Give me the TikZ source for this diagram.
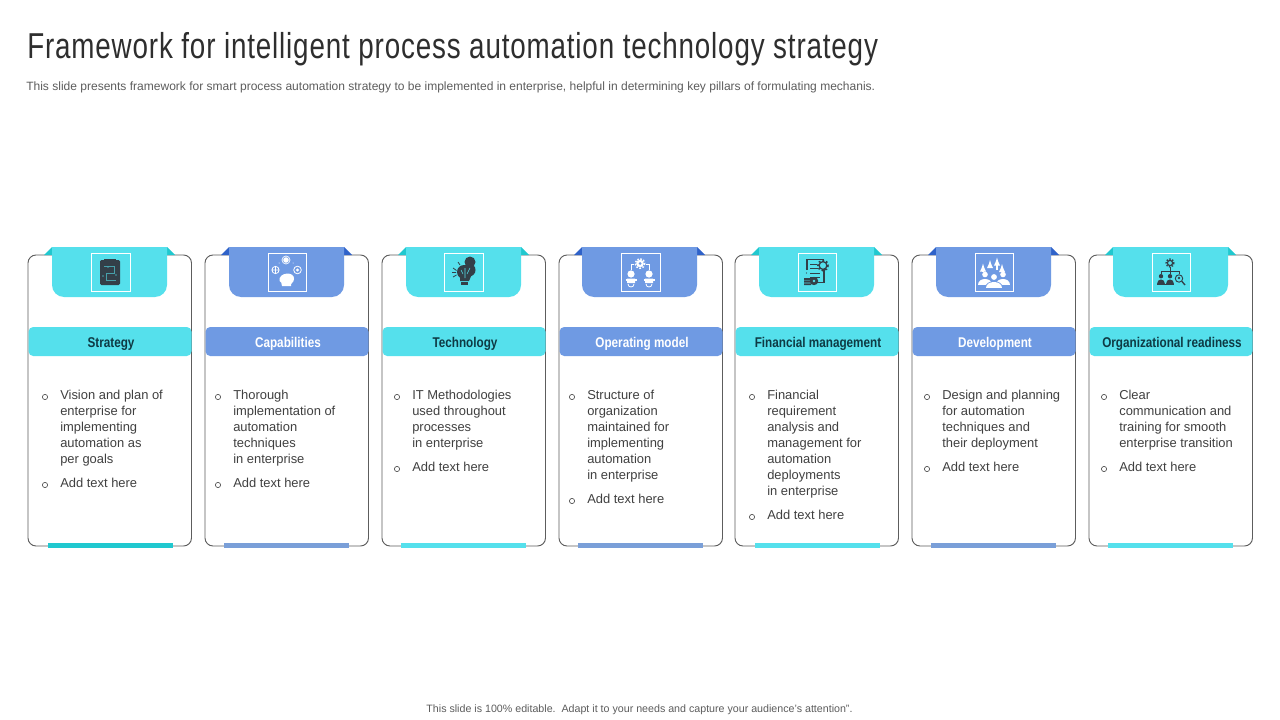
\documentclass[tikz,border=0pt]{standalone}
\usepackage{fontspec}
\setmainfont{Liberation Sans}
\definecolor{cy}{HTML}{55E0EC}
\definecolor{cyd}{HTML}{20C8CF}
\definecolor{bl}{HTML}{6F9AE3}
\definecolor{bld}{HTML}{2F62C9}
\definecolor{blb}{HTML}{7A9FD8}
\definecolor{ink}{HTML}{404040}
\definecolor{darkhead}{HTML}{0E3A44}
\definecolor{icond}{HTML}{333F48}
\definecolor{ttl}{HTML}{2E2E2E}
\tikzset{
  cardbox/.style={draw=ink!85,line width=0.7pt,rounded corners=6pt,fill=white},
  bodytext/.style={anchor=base west,inner sep=0pt,text=ink,font=\fontsize{9.7pt}{11pt}\selectfont},
  bulletmark/.style={circle,draw=ink,line width=0.45pt,inner sep=0pt,minimum size=3.9pt},
  headtext/.style={anchor=base,inner sep=0pt,font=\fontsize{10.6pt}{12pt}\selectfont\bfseries},
  iconframe/.style={draw=white,line width=0.6pt,fill=none},
}
% #1 card left x, #2 tab left x, #3 bar left x, #4 tab colour, #5 dark tab colour, #6 bar colour, #7 heading colour, #8 heading, #9 id
\newcommand{\cardbase}[9]{%
  \draw[cardbox] (#1,255) rectangle ++(163.5,291);
  \fill[#5] (#2-8,255) -- (#2,247) -- (#2+8,255) -- cycle;
  \fill[#5] (#2+107,255) -- (#2+115,247) -- (#2+123,255) -- cycle;
  \fill[#4] (#2,247) -- (#2+115,247) [rounded corners=9pt] -- (#2+115,297) -- (#2,297) [sharp corners] -- cycle;
  \fill[#4,rounded corners=3.5pt] (#1+0.5,327) rectangle ++(163,29);
  \fill[#6] (#3,543) rectangle ++(124.5,5);
  \node[headtext,text=#7] (head#9) at (#1+83,347.5) {\scalebox{0.83}[1]{#8}};
}
\newcommand{\bline}[4]{\node[bodytext] (t#1) at (#2,#3+4.5) {#4};}
\newcommand{\bmark}[3]{\node[bulletmark] (b#1) at (#2,#3) {};}
\newcommand{\minip}[3]{% x y colour : small person
  \fill[#3] (#1,#2-2.8) circle (2.2);
  \fill[#3] (#1-4,#2+4.5) .. controls (#1-4,#2-1) and (#1+4,#2-1) .. (#1+4,#2+4.5) -- cycle;
}
\begin{document}
\begin{tikzpicture}[x=0.75pt,y=-0.75pt]
\useasboundingbox (0,0) rectangle (1280,720);
\fill[white] (0,0) rectangle (1280,720);
\node[anchor=base west,inner sep=0pt,text=ttl] (title) at (27,58.5) {\scalebox{0.772}[1]{\fontsize{27pt}{30pt}\selectfont\addfontfeature{LetterSpace=3}Framework for intelligent process automation technology strategy}};
\node[anchor=base west,inner sep=0pt,text=ink!85] (subtitle) at (26,91) {\fontsize{9.02pt}{10pt}\selectfont This slide presents framework for smart process automation strategy to be implemented in enterprise, helpful in determining key pillars of formulating mechanis.};
\node[anchor=base,inner sep=0pt,text=ink!85] (foot) at (639.5,712) {\fontsize{8pt}{9pt}\selectfont This slide is 100\% editable.\ \ Adapt it to your needs and capture your audience's attention''.};

\cardbase{28}{52}{48}{cy}{cyd}{cyd}{darkhead}{Strategy}{a}
\cardbase{205}{229}{224}{bl}{bld}{blb}{white}{Capabilities}{b}
\cardbase{382}{406}{401}{cy}{cyd}{cy}{darkhead}{Technology}{c}
\cardbase{559}{582}{578}{bl}{bld}{blb}{white}{Operating model}{d}
\cardbase{735}{759}{755}{cy}{cyd}{cy}{darkhead}{Financial management}{e}
\cardbase{912}{936}{931}{bl}{bld}{blb}{white}{Development}{f}
\cardbase{1089}{1113}{1108}{cy}{cyd}{cy}{darkhead}{Organizational readiness}{g}

% body text
\bmark{a1}{45}{397}
\bline{a1}{60}{395}{Vision and plan of}
\bline{a2}{60}{411}{enterprise for}
\bline{a3}{60}{427}{implementing}
\bline{a4}{60}{443}{automation as}
\bline{a5}{60}{459}{per goals}
\bmark{a2}{45}{485}
\bline{a6}{60}{483}{Add text here}

\bmark{b1}{218}{397}
\bline{b1}{233}{395}{Thorough}
\bline{b2}{233}{411}{implementation of}
\bline{b3}{233}{427}{automation}
\bline{b4}{233}{443}{techniques}
\bline{b5}{233}{459}{in enterprise}
\bmark{b2}{218}{485}
\bline{b6}{233}{483}{Add text here}

\bmark{c1}{397}{397}
\bline{c1}{412}{395}{IT Methodologies}
\bline{c2}{412}{411}{used throughout}
\bline{c3}{412}{427}{processes}
\bline{c4}{412}{443}{in enterprise}
\bmark{c2}{397}{469}
\bline{c5}{412}{467}{Add text here}

\bmark{d1}{572}{397}
\bline{d1}{587}{395}{Structure of}
\bline{d2}{587}{411}{organization}
\bline{d3}{587}{427}{maintained for}
\bline{d4}{587}{443}{implementing}
\bline{d5}{587}{459}{automation}
\bline{d6}{587}{475}{in enterprise}
\bmark{d2}{572}{501}
\bline{d7}{587}{499}{Add text here}

\bmark{e1}{752}{397}
\bline{e1}{767}{395}{Financial}
\bline{e2}{767}{411}{requirement}
\bline{e3}{767}{427}{analysis and}
\bline{e4}{767}{443}{management for}
\bline{e5}{767}{459}{automation}
\bline{e6}{767}{475}{deployments}
\bline{e7}{767}{491}{in enterprise}
\bmark{e2}{752}{517}
\bline{e8}{767}{515}{Add text here}

\bmark{f1}{927}{397}
\bline{f1}{942}{395}{Design and planning}
\bline{f2}{942}{411}{for automation}
\bline{f3}{942}{427}{techniques and}
\bline{f4}{942}{443}{their deployment}
\bmark{f2}{927}{469}
\bline{f5}{942}{467}{Add text here}

\bmark{g1}{1104}{397}
\bline{g1}{1119}{395}{Clear}
\bline{g2}{1119}{411}{communication and}
\bline{g3}{1119}{427}{training for smooth}
\bline{g4}{1119}{443}{enterprise transition}
\bmark{g2}{1104}{469}
\bline{g5}{1119}{467}{Add text here}

% icon frames
\draw[iconframe] (91,253) rectangle (130,291);
\draw[iconframe] (268,253) rectangle (306,291);
\draw[iconframe] (444,253) rectangle (483,291);
\draw[iconframe] (621,253) rectangle (660,291);
\draw[iconframe] (798,253) rectangle (836,291);
\draw[iconframe] (975,253) rectangle (1013,291);
\draw[iconframe] (1152,253) rectangle (1190,291);

% icon: clipboard
\fill[icond,rounded corners=1pt] (100,260) rectangle (120,285);
\fill[icond] (104,258.5) rectangle (116,261);
\draw[cy!60!icond,line width=0.35pt] (104,266) -- (114,266) -- (114,273) -- (106,273) -- (106,280) -- (116,280);
\fill[cy!60!icond] (108,267) circle (0.8) (116,275) circle (0.8) (103,276) circle (0.8);

% icon: head and three ideas
\fill[white] (282,286) .. controls (282,283) and (281,282) .. (279.5,281) .. controls (278,272) and (295,271) .. (294,279) .. controls (294,283) and (290,283) .. (291,286) -- cycle;
\fill[white] (286,260) circle (2.8);
\draw[white,line width=0.5pt] (286,260) circle (4);
\draw[white,line width=0.6pt] (275.5,270) circle (3.6) (275.5,266.4) -- (275.5,273.6) (271.9,270) -- (279.1,270);
\draw[white,line width=0.6pt] (297.5,270) circle (3.8);
\fill[white] (297.5,270) circle (1.6);
\fill[white] (279,263) circle (0.5) (293,263) circle (0.5);

% icon: bulb and gear
\fill[icond] (470,262) circle (5.5);
\fill[icond] (464,272) circle (7);
\fill[icond] (469,270) circle (6.5);
\fill[icond] (460,276) -- (472,274) -- (469,281) -- (460,281) -- cycle;
\fill[icond] (461,282) rectangle (468,284.5);
\draw[cy,line width=0.4pt] (465,268) -- (465,278) (461,270) -- (463,274) (470,268) -- (467,274);
\draw[icond,line width=0.6pt] (453,268) -- (456.5,270.5) (452,272.5) -- (456,272.5) (453,277) -- (456.5,275) (458,262) -- (460,265);

% icon: gear and two people
\fill[white] (640,263.5) circle (3.8);
\draw[white,line width=1.1pt,dash pattern=on 1.2pt off 1.2pt] (640,263.5) circle (4.8);
\fill[bl] (640,263.5) circle (1.5);
\draw[white,line width=0.6pt] (634,264) -- (631,264) -- (631,270) (646,264) -- (649,264) -- (649,270);
\fill[white] (631,274) circle (3.6) (649,274) circle (3.6);
\fill[white] (627,278.5) rectangle (635,283) (645,278.5) rectangle (653,283);
\draw[white,line width=0.6pt] (628,284) .. controls (628,288) and (634,288) .. (634,284) (646,284) .. controls (646,288) and (652,288) .. (652,284);
\draw[white,line width=0.9pt] (625.5,280) -- (636.5,280) (643.5,280) -- (654.5,280);

% icon: document, gear, coins
\draw[icond,line width=0.8pt] (807,270) -- (807,259.5) -- (824,259.5) (824,269) -- (824,282.5) -- (816,282.5);
\draw[icond,line width=0.7pt] (810,264) -- (817,264) (810,268.5) -- (818,268.5) (810,273) -- (820,273) (810,277.5) -- (820,277.5);
\fill[icond] (806.5,264) circle (0.7) (806.5,268.5) circle (0.7) (806.5,273) circle (0.7);
\draw[icond,line width=1pt] (823,265.5) circle (3.9);
\draw[icond,line width=1.4pt,dash pattern=on 1.2pt off 1.6pt] (823,265.5) circle (5);
\fill[icond] (804,278) rectangle (811,280) (804,280.7) rectangle (811,282.7) (804,283.4) rectangle (811,285.2);
\fill[icond] (814,281) circle (4.2);
\fill[cy] (814,281) circle (1.3);

% icon: growing arrows and team
\draw[white,line width=1.1pt,-{latex}] (983,272) -- (983,263.5);
\draw[white,line width=1.1pt,-{latex}] (990,268) -- (990,260);
\draw[white,line width=1.1pt,-{latex}] (997,270) -- (997,257.5);
\draw[white,line width=1.1pt,-{latex}] (1002,272) -- (1002,264);
\fill[white] (985,274.5) circle (2.8) (1003,274.5) circle (2.8);
\fill[white] (978,285) .. controls (978,277) and (992,277) .. (992,285) -- cycle;
\fill[white] (996,285) .. controls (996,277) and (1010,277) .. (1010,285) -- cycle;
\fill[bl] (994,277) circle (3.6);
\fill[white] (994,277) circle (2.9);
\fill[bl] (985,288.2) .. controls (985,278.6) and (1003,278.6) .. (1003,288.2) -- cycle;
\fill[white] (986,287.5) .. controls (986,279.5) and (1002,279.5) .. (1002,287.5) -- cycle;

% icon: org chart with magnifier
\draw[icond,line width=0.9pt] (1170,263) circle (2.6);
\draw[icond,line width=1.2pt,dash pattern=on 1pt off 1.1pt] (1170,263) circle (3.8);
\draw[icond,line width=0.4pt] (1170,267) -- (1170,271) (1161,274) -- (1161,271) -- (1179,271) -- (1179,274) (1170,271) -- (1170,274);
\minip{1161}{279}{icond}
\minip{1170}{279}{icond}
\fill[icond] (1156.5,283.5) rectangle (1174,284.8);
\draw[icond,line width=0.7pt] (1179,278.5) circle (3.7);
\fill[icond] (1179,278) circle (1.4);
\draw[icond,line width=1pt] (1181.8,281.3) -- (1185,285);
\end{tikzpicture}
\end{document}
